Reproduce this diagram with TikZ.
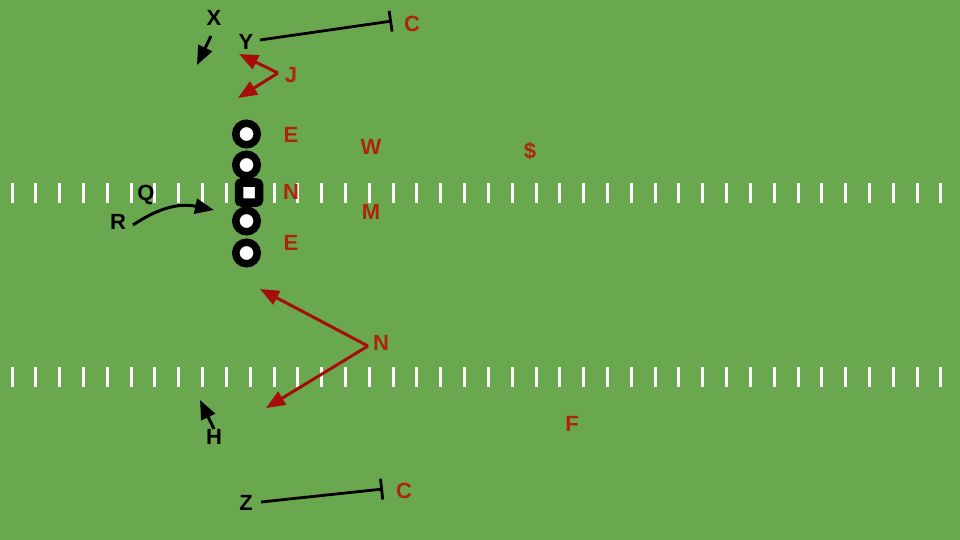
\documentclass[tikz,border=0pt]{standalone}
\usepackage{fontspec}
\setmainfont{Liberation Sans}[BoldFont={Liberation Sans Bold}]
\usetikzlibrary{arrows.meta}
\definecolor{field}{HTML}{6AA84F}
\definecolor{redtxt}{RGB}{172,38,12}
\definecolor{redarr}{RGB}{165,12,10}
\begin{document}
\begin{tikzpicture}[x=1pt,y=-1pt,
  lbl/.style={font=\fontsize{22}{22}\selectfont\bfseries, inner sep=0pt},
  blk/.style={lbl,text=black},
  rd/.style={lbl,text=redtxt},
  hashmark/.style={draw=white, line width=3pt},
  ring/.style={circle, draw=black, line width=7.5pt, fill=white, minimum size=21.5pt, inner sep=0pt},
  center/.style={rectangle, draw=black, line width=8.5pt, fill=white, minimum size=20pt, inner sep=0pt, rounded corners=2.5pt},
  blkarrow/.style={draw=black, line width=3pt, -{Triangle[length=19pt,width=15pt]}},
  redarrow/.style={draw=redarr, line width=3pt, -{Triangle[length=19pt,width=15pt]}},
  blkbar/.style={draw=black, line width=2.8pt, -{Bar[width=21pt,line width=2.8pt]}}
]
\fill[field] (0,0) rectangle (960,540);
\useasboundingbox (0,0) rectangle (960,540);
% hash marks
\foreach \i in {0,...,39}{
  \draw[hashmark] ({12+23.82*\i},183) -- ({12+23.82*\i},203);
  \draw[hashmark] ({12+23.82*\i},367) -- ({12+23.82*\i},387);
}
% offensive line
\node[ring] (p1) at (246.5,134) {};
\node[ring] (p2) at (246.5,165) {};
\node[center] (c) at (249,192.5) {};
\node[ring] (p4) at (246.5,221) {};
\node[ring] (p5) at (246.5,253) {};
% labels
\node[blk] (X) at (214,18) {X};
\node[blk] (Y) at (246,42) {Y};
\node[rd] (C1) at (412,24) {C};
\node[rd] (J) at (291,75) {J};
\node[rd] (E1) at (291,135) {E};
\node[rd] (N1) at (291,192) {N};
\node[rd] (E2) at (291,243) {E};
\node[rd] (W) at (371,147) {W};
\node[rd] (D) at (530,151) {\$};
\node[rd] (M) at (371,212) {M};
\node[blk] (Q) at (146,195) {Q};
\node[blk] (R) at (118,222) {R};
\node[rd] (N2) at (381,343) {N};
\node[blk] (H) at (214,437) {H};
\node[rd] (F) at (572,424) {F};
\node[blk] (Z) at (246,503) {Z};
\node[rd] (C2) at (404,491) {C};
% route coordinates
\coordinate (ys) at (260,40);
\coordinate (ye) at (392,21);
\coordinate (zs) at (261,502);
\coordinate (ze) at (383,489);
\coordinate (xs) at (211,36);
\coordinate (xe) at (197,65);
\coordinate (jv) at (278,73);
\coordinate (jt1) at (239,54);
\coordinate (jt2) at (238,98);
\coordinate (nv) at (368,346);
\coordinate (nt1) at (260,289);
\coordinate (nt2) at (266,408);
\coordinate (hs) at (214,429);
\coordinate (he) at (200,400);
\coordinate (rs) at (133,225);
\coordinate (re) at (214,210);
% routes
\draw[blkbar] (ys) -- (ye);
\draw[blkbar] (zs) -- (ze);
\draw[blkarrow] (xs) -- (xe);
\draw[blkarrow] (hs) -- (he);
\draw[blkarrow] (rs) .. controls (160,207) and (180,203) .. (re);
\draw[redarrow] (jv) -- (jt1);
\draw[redarrow] (jv) -- (jt2);
\draw[redarrow] (nv) -- (nt1);
\draw[redarrow] (nv) -- (nt2);
\end{tikzpicture}
\end{document}
